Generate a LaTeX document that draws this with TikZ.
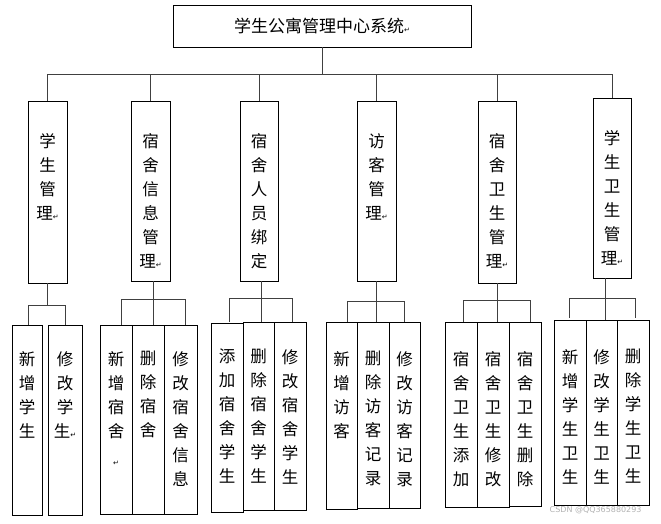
\documentclass[tikz,border=0pt]{standalone}
\usepackage{fontspec}
\newfontfamily\cjk{Noto Sans CJK SC}
\newfontfamily\djf{DejaVu Sans}
\tikzset{box/.style={draw,line width=0.9pt,inner sep=0pt},
 vt/.style={anchor=north,inner sep=0pt,align=center,font=\cjk\fontsize{16.5}{24}\selectfont},
 ln/.style={draw=black!75,line width=1pt}}
\newcommand\rt{{\djf\fontsize{7}{7}\selectfont ↵}}
% name, x1,y1,x2,y2, text, text-top
\newcommand\bx[7]{\node[box,minimum width=#4pt-#2pt,minimum height=#5pt-#3pt] (#1) at ({(#2+#4)/2},{-(#3+#5)/2}) {};
 \node[vt] (#1t) at ({(#2+#4)/2},-#7) {#6};}
\newcommand\grp[6]{% parent, y, xl, xr, trunk-x, child-top
 \draw[ln] (#5,0|-#1.south) -- (#5,-#2);
 \draw[ln] (#3,-#2) -- (#4,-#2);
 \draw[ln] (#3,-#2) -- (#3,-#6); \draw[ln] (#4,-#2) -- (#4,-#6);}
\begin{document}
\begin{tikzpicture}[x=1pt,y=1pt]
\useasboundingbox (0,0) rectangle (661,-523);
\node[box,minimum width=298pt,minimum height=42pt,font=\cjk\fontsize{17}{18}\selectfont] (root) at (322,-26) {学生公寓管理中心系统\rt};
\bx{a}{28}{101}{67}{283}{学\\生\\管\\理\rt}{133}
\bx{b}{131}{101}{170}{281}{宿\\舍\\信\\息\\管\\理\rt}{133}
\bx{c}{240}{101}{278}{281}{宿\\舍\\人\\员\\绑\\定}{133}
\bx{d}{357}{101}{396}{281}{访\\客\\管\\理\rt}{133}
\bx{e}{478}{101}{516}{283}{宿\\舍\\卫\\生\\管\\理\rt}{133}
\bx{f}{593}{98}{631}{278}{学\\生\\卫\\生\\管\\理\rt}{130}
\coordinate (bus) at (0,-74);
\draw[ln] (root.south) -- (root.south|-bus);
\draw[ln] (a.north|-bus) -- (f.north|-bus);
\foreach \n in {a,b,c,d,e,f} \draw[ln] (\n.north|-bus) -- (\n.north);
% level 3
\bx{a1}{12}{325}{42}{515}{新\\增\\学\\生}{351}
\bx{a2}{48}{325}{82}{515}{修\\改\\学\\生\rt}{351}
\bx{b1}{100}{325}{132}{514}{新\\增\\宿\\舍\\[4pt]\rt}{351}
\bx{b2}{132}{325}{164}{514}{删\\除\\宿\\舍}{351}
\bx{b3}{164}{325}{197}{514}{修\\改\\宿\\舍\\信\\息}{351}
\bx{c1}{211}{323}{243}{512}{添\\加\\宿\\舍\\学\\生}{349}
\bx{c2}{243}{322}{274}{510}{删\\除\\宿\\舍\\学\\生}{349}
\bx{c3}{274}{322}{306}{510}{修\\改\\宿\\舍\\学\\生}{349}
\bx{d1}{326}{322}{357}{509}{新\\增\\访\\客}{351}
\bx{d2}{357}{322}{389}{508}{删\\除\\访\\客\\记\\录}{351}
\bx{d3}{389}{322}{420}{508}{修\\改\\访\\客\\记\\录}{351}
\bx{e1}{445}{322}{477}{507}{宿\\舍\\卫\\生\\添\\加}{351}
\bx{e2}{477}{322}{509}{507}{宿\\舍\\卫\\生\\修\\改}{351}
\bx{e3}{509}{322}{541}{506}{宿\\舍\\卫\\生\\删\\除}{351}
\bx{f1}{554}{320}{586}{505}{新\\增\\学\\生\\卫\\生}{349}
\bx{f2}{586}{320}{617}{505}{修\\改\\学\\生\\卫\\生}{349}
\bx{f3}{617}{320}{649}{505}{删\\除\\学\\生\\卫\\生}{349}
% group connectors
\grp{a}{305}{28}{65}{47}{325}
\grp{b}{299}{121}{185}{153}{325}
\draw[ln] (153,-299) -- (153,-325);
\grp{c}{298}{229}{292}{261}{322}
\draw[ln] (261,-298) -- (261,-322);
\grp{d}{301}{347}{404}{376}{322}
\draw[ln] (376,-301) -- (376,-322);
\grp{e}{300}{463}{530}{497}{322}
\draw[ln] (497,-300) -- (497,-322);
\grp{f}{298}{569}{635}{605}{318}
\draw[ln] (605,-298) -- (605,-320);
\node[font=\djf\fontsize{8}{8}\selectfont,text=black!30,anchor=east] (wm) at (645,-510) {CSDN @QQ365880293};
\end{tikzpicture}
\end{document}
